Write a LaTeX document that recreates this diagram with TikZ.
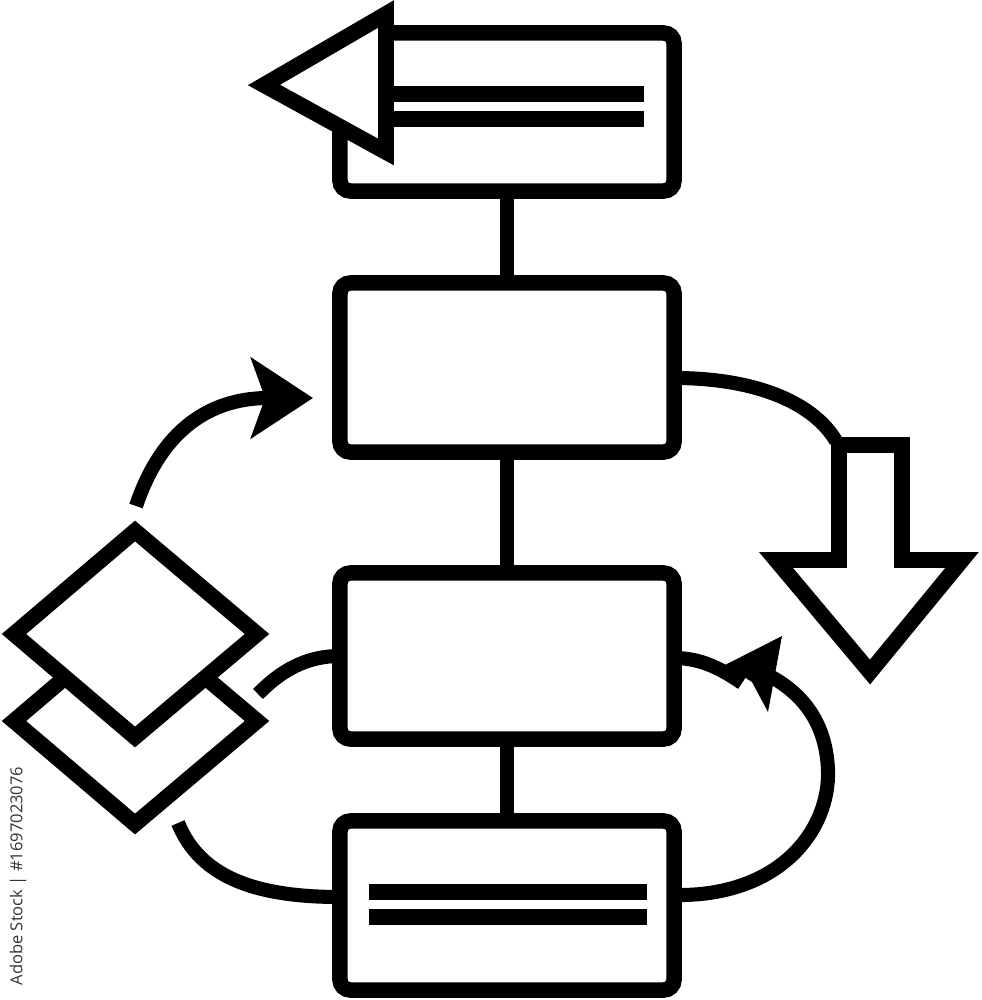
\documentclass[tikz,border=0pt]{standalone}
\usepackage{fontspec}
\setsansfont{Open Sans}
\usetikzlibrary{calc,arrows.meta}

\begin{document}
\begin{tikzpicture}[x=0.01cm,y=-0.01cm,
  box/.style={draw,line width=4.4pt,rounded corners=3pt,minimum width=3.34cm,inner sep=0pt,outer sep=0pt},
  link/.style={line width=4pt},
  bar/.style={line width=4.5pt},
  outline/.style={line width=4.5pt,line join=miter,miter limit=10}]
  \useasboundingbox (0,0) rectangle (981,1000);
  \node at (507,112)[box,draw=none,minimum height=1.58cm] (plan){};
  \node at (507,367.5)[box,minimum height=1.69cm] (task){};
  \node at (507,656)[box,minimum height=1.66cm] (check){};
  \node at (507,905.5)[box,minimum height=1.69cm] (report){};
  \draw [line width=4.4pt,rounded corners=3pt] ($(plan.north west)+(46,0)$) -- (plan.north east) -- (plan.south east) -- (plan.south west) -- ($(plan.north west)+(0,60)$);
  \draw [link] (plan.south) -- (task.north);
  \draw [link] (task.south) -- (check.north);
  \draw [link] (check.south) -- (report.north);
  \foreach \y in {94,119} \draw [bar] (386,\y) -- (644,\y);
  \foreach \y in {892,917} \draw [bar] (369,\y) -- (647,\y);
  \draw [outline,fill=white] (264,85) -- (386,14) -- (386,152) -- cycle;
  \draw [link] ($(task.east)+(0,10.5)$) .. controls (760,378) and (815,405) .. (836,441);
  \draw [outline] (839,445) -- (902,445) -- (902,560) -- (962,560) -- (870,672) -- (776,560) -- (839,560) -- cycle;
  \draw [link,-{Stealth[length=17.6pt,width=22.8pt,inset=4pt]}] (136,506) .. controls (165,420) and (220,398) .. (313,398);
  \draw [link] (check.west) .. controls (300,656) and (275,677) .. (258,694);
  \draw [link] (178,823) .. controls (200,877) and (255,897) .. ($(report.west)+(0,-8.5)$);
  \draw [link] ($(report.east)+(0,-10.5)$) .. controls (780,897) and (830,830) .. (828,770) .. controls (826,720) and (800,690) .. (762,672);
  \draw [link] ($(check.east)+(0,2)$) .. controls (700,658) and (720,668) .. (742,683);
  \fill (782,636) -- (725,665) -- (752,682) -- (768,712) -- cycle;
  \foreach \dy in {87,0} \draw [outline,fill=white] (135,531+\dy) -- (257,634+\dy) -- (135,737+\dy) -- (14,634+\dy) -- cycle;
  \node at (18,876)[rotate=90,font=\sffamily\fontsize{4.7}{5}\selectfont,text=black!80,inner sep=0pt] (stock){Adobe Stock | \#1697023076};
\end{tikzpicture}
\end{document}
